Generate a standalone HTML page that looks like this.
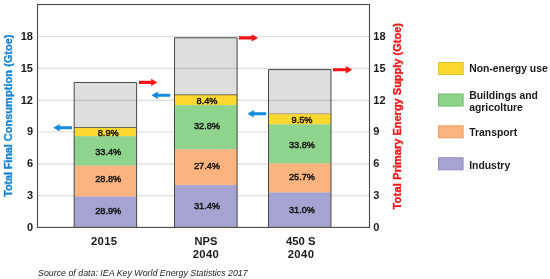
<!DOCTYPE html>
<html><head><meta charset="utf-8">
<style>
html,body{margin:0;padding:0;background:#fff;}
body{width:550px;height:279px;overflow:hidden;}
svg{display:block;font-family:"Liberation Sans",Arial,sans-serif;}
.tk{font-size:11px;font-weight:bold;fill:#1a1a1a;}
.pc{font-size:9.2px;font-weight:normal;fill:#141414;stroke:#141414;stroke-width:0.45px;text-anchor:middle;}
.xl{font-size:11.3px;font-weight:bold;fill:#1a1a1a;text-anchor:middle;}
.lg{font-size:10.4px;font-weight:bold;fill:#1a1a1a;}
</style></head><body>
<svg width="550" height="279" viewBox="0 0 550 279">
<rect width="550" height="279" fill="#fff"/>
<!-- gridlines -->
<g stroke="#dcdcdc" stroke-width="1.2">
<line x1="38" x2="369" y1="36.5" y2="36.5"/>
<line x1="38" x2="369" y1="68.3" y2="68.3"/>
<line x1="38" x2="369" y1="100.3" y2="100.3"/>
<line x1="38" x2="369" y1="132.0" y2="132.0"/>
<line x1="38" x2="369" y1="163.8" y2="163.8"/>
<line x1="38" x2="369" y1="195.6" y2="195.6"/>
</g>
<!-- bars -->
<rect x="74.2" y="82.5" width="62.4" height="144.9" fill="#dedede" style="mix-blend-mode:multiply"/>
<rect x="74.2" y="127.5" width="62.4" height="8.7" fill="#fcd92f"/>
<rect x="74.2" y="136.2" width="62.4" height="29.5" fill="#8fd48c"/>
<rect x="74.2" y="165.7" width="62.4" height="30.9" fill="#fdb37d"/>
<rect x="74.2" y="196.6" width="62.4" height="30.8" fill="#a5a3d2"/>
<path d="M74.2,227.4 V82.5 H136.6 V227.4" fill="none" stroke="#484848" stroke-width="1"/>
<line x1="74.2" x2="136.6" y1="127.5" y2="127.5" stroke="#484848" stroke-width="0.8"/>
<rect x="174.5" y="37.8" width="62.6" height="189.6" fill="#dedede" style="mix-blend-mode:multiply"/>
<rect x="174.5" y="94.8" width="62.6" height="10.4" fill="#fcd92f"/>
<rect x="174.5" y="105.2" width="62.6" height="44.1" fill="#8fd48c"/>
<rect x="174.5" y="149.3" width="62.6" height="35.8" fill="#fdb37d"/>
<rect x="174.5" y="185.1" width="62.6" height="42.3" fill="#a5a3d2"/>
<path d="M174.5,227.4 V37.8 H237.1 V227.4" fill="none" stroke="#484848" stroke-width="1"/>
<line x1="174.5" x2="237.1" y1="94.8" y2="94.8" stroke="#484848" stroke-width="0.8"/>
<rect x="268.5" y="69.6" width="62.5" height="157.8" fill="#dedede" style="mix-blend-mode:multiply"/>
<rect x="268.5" y="113.7" width="62.5" height="10.7" fill="#fcd92f"/>
<rect x="268.5" y="124.4" width="62.5" height="39.1" fill="#8fd48c"/>
<rect x="268.5" y="163.5" width="62.5" height="29.0" fill="#fdb37d"/>
<rect x="268.5" y="192.5" width="62.5" height="34.9" fill="#a5a3d2"/>
<path d="M268.5,227.4 V69.6 H331.0 V227.4" fill="none" stroke="#484848" stroke-width="1"/>
<line x1="268.5" x2="331.0" y1="113.7" y2="113.7" stroke="#9a9a90" stroke-width="0.8"/>
<!-- frame -->
<rect x="37.5" y="4.5" width="332" height="222.9" fill="none" stroke="#484848" stroke-width="1.1"/>
<!-- arrows -->
<g fill="#f41418">
<path d="M0,-1.55 L12.3,-1.55 L12.3,-3.7 L18.5,0 L12.3,3.7 L12.3,1.55 L0,1.55 Z" transform="translate(138.9,82.4)"/>
<path d="M0,-1.55 L12.8,-1.55 L12.8,-3.7 L19.2,0 L12.8,3.7 L12.8,1.55 L0,1.55 Z" transform="translate(238.9,37.9)"/>
<path d="M0,-1.55 L12.8,-1.55 L12.8,-3.7 L19.2,0 L12.8,3.7 L12.8,1.55 L0,1.55 Z" transform="translate(333.0,69.7)"/>
</g>
<g fill="#138ada">
<path d="M0,-1.55 L-12.4,-1.55 L-12.4,-3.7 L-18.8,0 L-12.4,3.7 L-12.4,1.55 L0,1.55 Z" transform="translate(72.1,127.7)"/>
<path d="M0,-1.55 L-12.4,-1.55 L-12.4,-3.7 L-18.8,0 L-12.4,3.7 L-12.4,1.55 L0,1.55 Z" transform="translate(170.2,95.2)"/>
<path d="M0,-1.55 L-12.4,-1.55 L-12.4,-3.7 L-18.8,0 L-12.4,3.7 L-12.4,1.55 L0,1.55 Z" transform="translate(266.2,113.8)"/>
</g>
<!-- left ticks -->
<g class="tk" text-anchor="end">
<text x="33" y="39.9">18</text>
<text x="33" y="71.7">15</text>
<text x="33" y="103.6">12</text>
<text x="33" y="135.4">9</text>
<text x="33" y="167.2">6</text>
<text x="33" y="199">3</text>
<text x="33" y="230.7">0</text>
</g>
<g class="tk" text-anchor="start">
<text x="373.3" y="39.9">18</text>
<text x="373.3" y="71.7">15</text>
<text x="373.3" y="103.6">12</text>
<text x="373.3" y="135.4">9</text>
<text x="373.3" y="167.2">6</text>
<text x="373.3" y="199">3</text>
<text x="373.3" y="230.7">0</text>
</g>
<!-- axis titles -->
<text id="lt" transform="translate(12.3,196.8) rotate(-90) scale(1.06,1)" font-size="10.25px" font-weight="bold" fill="#1585d8" stroke="#1585d8" stroke-width="0.35"><tspan letter-spacing="-0.08">Total Final </tspan><tspan letter-spacing="0.13">Consumption </tspan><tspan letter-spacing="0.04">(Gtoe)</tspan></text>
<text id="rt" transform="translate(401.2,209.5) rotate(-90) scale(1.07,1)" font-size="10.3px" font-weight="bold" fill="#f2161a" stroke="#f2161a" stroke-width="0.35"><tspan letter-spacing="0.2">Total </tspan>Primary Energy Supply (Gtoe)</text>
<!-- percent labels -->
<g class="pc">
<text x="108.2" y="135.6">8.9%</text>
<text x="108.2" y="155.4">33.4%</text>
<text x="108.2" y="182.2">28.8%</text>
<text x="108.2" y="214.3">28.9%</text>
<text x="207.0" y="103.8">8.4%</text>
<text x="207.0" y="129.4">32.8%</text>
<text x="207.0" y="169.1">27.4%</text>
<text x="207.0" y="208.9">31.4%</text>
<text x="302.0" y="122.5">9.5%</text>
<text x="302.0" y="147.9">33.8%</text>
<text x="302.0" y="180.2">25.7%</text>
<text x="302.0" y="212.9">31.0%</text>
</g>
<!-- x labels -->
<g class="xl">
<text x="104.2" y="244.9" letter-spacing="0.35">2015</text>
<text x="205.9" y="244.9" font-size="11.1px">NPS</text>
<text x="205.9" y="258.3" letter-spacing="0.35">2040</text>
<text x="300.7" y="244.9">450 S</text>
<text x="301" y="258.3" letter-spacing="0.35">2040</text>
</g>
<text x="38" y="276" font-size="8.84px" font-style="italic" fill="#222">Source of data: IEA Key World Energy Statistics 2017</text>
<!-- legend -->
<g stroke-width="1">
<rect x="438.5" y="62.5" width="24.6" height="12" fill="#fcd92f" stroke="#e3bf2c"/>
<rect x="438.5" y="94" width="24.6" height="12" fill="#8cd489" stroke="#70b66e"/>
<rect x="438.5" y="125.8" width="24.6" height="12" fill="#fdb37d" stroke="#ee9f68"/>
<rect x="438.5" y="157.8" width="24.6" height="12" fill="#a5a3d2" stroke="#908ec2"/>
</g>
<g class="lg">
<text x="469.2" y="72">Non-energy use</text>
<text x="469.2" y="99.2">Buildings and</text>
<text x="469.2" y="110.7">agricolture</text>
<text x="469.2" y="135.8">Transport</text>
<text x="469.2" y="168.9">Industry</text>
</g>
</svg>
</body></html>
